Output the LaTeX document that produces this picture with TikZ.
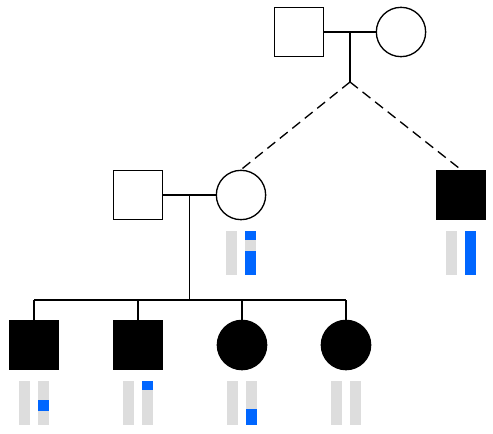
\documentclass[tikz,border=0pt]{standalone}
\usetikzlibrary{positioning}
\definecolor{chromgray}{RGB}{221,221,221}
\definecolor{chromblue}{RGB}{0,102,255}
\newcommand{\chrompair}[1]{%
    \begin{scope}[shift={(#1.south)}]
        \fill[chromgray] (-15,10.5) rectangle (-4,54.5);
        \fill[chromgray] (4,10.5) rectangle (15,54.5);
    \end{scope}}
\newcommand{\blueseg}[3]{%
    \begin{scope}[shift={(#1.south)}]
        \fill[chromblue] (4,10.5+44*#2) rectangle (15,10.5+44*#3);
    \end{scope}}

\begin{document}
\begin{tikzpicture}[
                    x=0.75pt,
                    y=-0.75pt,
                    male/.style={
                        rectangle,
                        draw=black,
                        minimum size=37pt,
                        inner sep=0pt
                    },
                    female/.style={
                        circle,
                        draw=black,
                        minimum size=37pt,
                        inner sep=0pt
                    },
                    affected/.style={fill=black},
                    node distance=40pt,
                    line width=1pt,
                    descent/.style={dash pattern=on 7.5pt off 4.5pt}
                ]
                \useasboundingbox (0,0) rectangle (493,434);

                \node (GF) [male] at (299,32) {};
                \node (GM) [female] at (401,32) {};
                \node (F) [male] at (138,195) {};
                \node (M) [female] at (241,195) {};
                \node (U) [male, affected] at (461,195) {};
                \node (C1) [male, affected] at (34,345) {};
                \node (C2) [male, affected, right=of C1] {};
                \node (C3) [female, affected, right=of C2] {};
                \node (C4) [female, affected, right=of C3] {};

                \draw (GF.east) -- (GM.west) coordinate[midway] (GC);
                \draw (GC) -- ++(0,50) coordinate (GS);
                \draw [descent] (GS) -- (M.north);
                \draw [descent] (GS) -- (U.north);

                \draw (F.east) -- (M.west) coordinate[midway] (PC);
                \draw (PC) -- ++(0,105) coordinate (PS);
                \draw (C1.north |- PS) -- (C4.north |- PS);
                \foreach \c in {C1,C2,C3,C4}
                    \draw (\c.north) -- (\c.north |- PS);

                \foreach \n in {M,U,C1,C2,C3,C4}
                    \chrompair{\n};
                \blueseg{M}{0}{0.2}
                \blueseg{M}{0.45}{1}
                \blueseg{U}{0}{1}
                \blueseg{C1}{0.44}{0.68}
                \blueseg{C2}{0}{0.2}
                \blueseg{C3}{0.64}{1}
            \end{tikzpicture}
\end{document}
